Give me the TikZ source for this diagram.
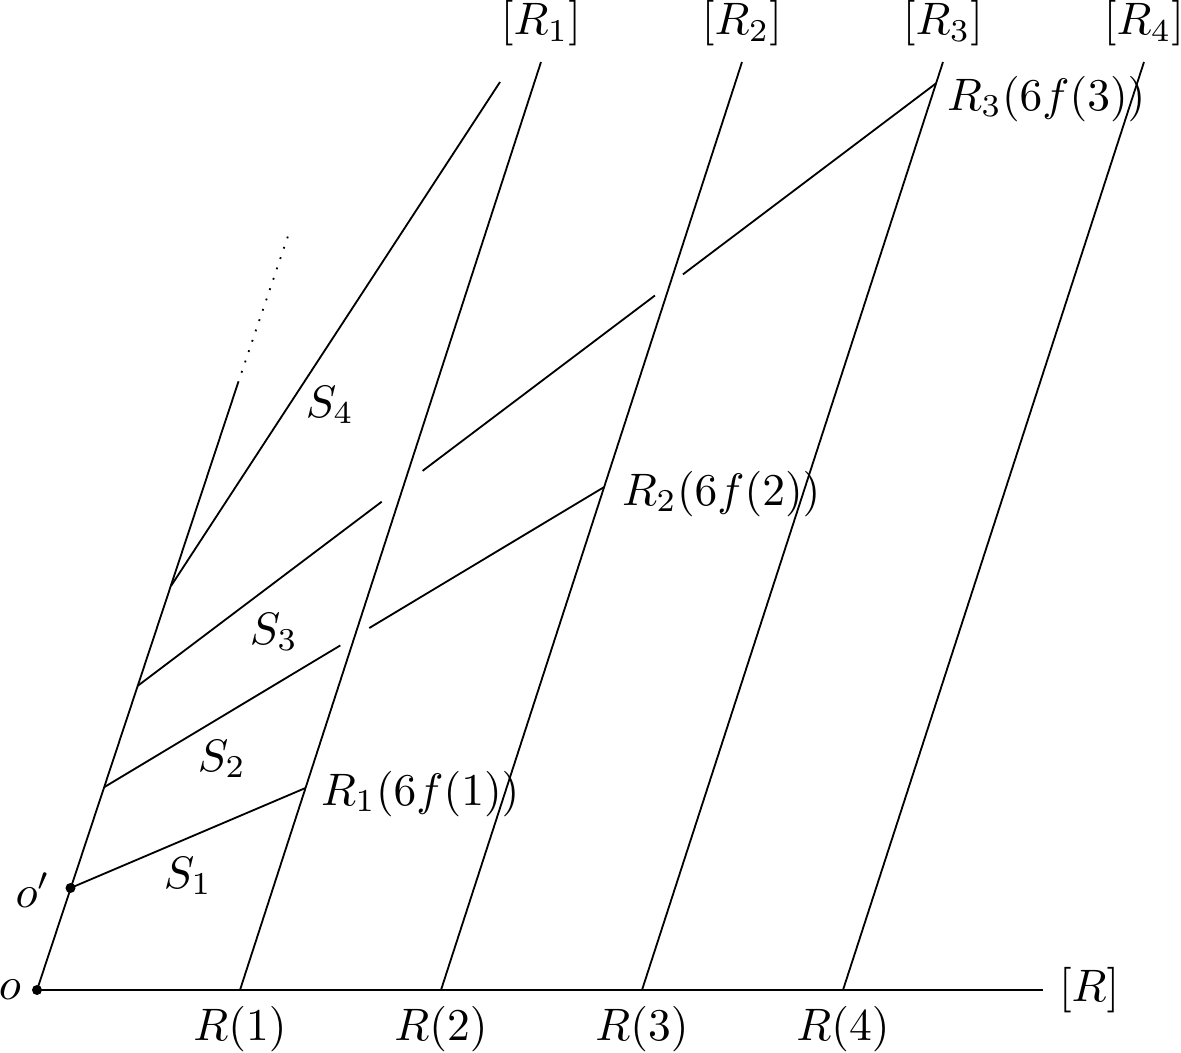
\documentclass[tikz,border=0pt]{standalone}
\usetikzlibrary{calc}
\begin{document}
\begin{tikzpicture}[x=0.2198pt,y=-0.2198pt,line width=0.4pt,
  ln/.style={draw=black,line width=0.4pt},
  dotpt/.style={fill=black},
  lbl/.style={inner sep=3.33pt}]
\useasboundingbox (0,0) rectangle (1181,1053);
% base points
\coordinate (o) at (37,990);
\coordinate (op) at (70.5,888);
\coordinate (xend) at (1043,990);
\coordinate (q2) at (104.5,787);
\coordinate (q3) at (137.5,686);
\coordinate (q4) at (171,586);
\coordinate (qs) at (238,383);
\coordinate (qd) at (288,236);
\coordinate (s4e) at (500,82);
% R lines
\coordinate (r1) at (240,990); \coordinate (t1) at (541,62);
\coordinate (r2) at (441,990); \coordinate (t2) at (742,62);
\coordinate (r3) at (642,990); \coordinate (t3) at (943,62);
\coordinate (r4) at (843,990); \coordinate (t4) at (1144,62);
\coordinate (p1) at ($(r1)!0.2177!(t1)$);
\coordinate (p2) at ($(r2)!0.542!(t2)$);
\coordinate (p3) at ($(r3)!0.977!(t3)$);
% axis and o-line
\draw[ln] (o) -- (xend);
\draw[ln] (o) -- (qs);
\draw[ln,dotted] (qs) -- (qd);
\foreach \i in {1,2,3,4} \draw[ln] (r\i) -- (t\i);
% S lines
\draw[ln] (op) -- (p1);
\draw[ln] (q2) -- ($(q2)!0.472!(p2)$);
\draw[ln] ($(q2)!0.53!(p2)$) -- (p2);
\draw[ln] (q3) -- ($(q3)!0.3058!(p3)$);
\draw[ln] ($(q3)!0.357!(p3)$) -- ($(q3)!0.648!(p3)$);
\draw[ln] ($(q3)!0.683!(p3)$) -- (p3);
\draw[ln] (q4) -- (s4e);
% dots
\fill[dotpt] (o) circle (1.1pt);
\fill[dotpt] (op) circle (1.1pt);
% labels
\node[lbl,anchor=east] (lo) at (o) {$o$};
\node[lbl,anchor=base] (lop) at (33,907) {$o'$};
\node[lbl,anchor=west] (lR) at (xend) {$[R]$};
\foreach \i in {1,2,3,4} {
  \node[lbl,anchor=north] (lr\i) at (r\i) {$R(\i)$};
  \node[lbl,anchor=south] (lt\i) at (t\i) {$[R_\i]$};
}
\node[lbl,anchor=base west] (lp1) at (305,805) {$R_1(6f(1))$};
\node[lbl,anchor=base west] (lp2) at (606,505) {$R_2(6f(2))$};
\node[lbl,anchor=base west] (lp3) at (931,110) {$R_3(6f(3))$};
\node[lbl] (ls1) at (188,876) {$S_1$};
\node[lbl] (ls2) at (222,759) {$S_2$};
\node[lbl] (ls3) at (274,632) {$S_3$};
\node[lbl] (ls4) at (330,405) {$S_4$};
\end{tikzpicture}
\end{document}
